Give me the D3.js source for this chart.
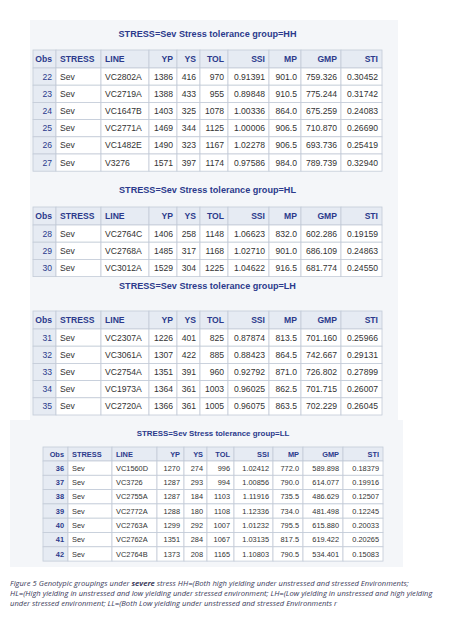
<!DOCTYPE html><html><head><meta charset="utf-8">
<script src="https://cdn.jsdelivr.net/npm/d3@7"></script>
<style>body{margin:0;background:#fff}</style></head><body>
<svg id="c" width="471" height="635"></svg>
<script>
const columns=["Obs","STRESS","LINE","YP","YS","TOL","SSI","MP","GMP","STI"];
const groupTitles=["STRESS=Sev Stress tolerance group=HH","STRESS=Sev Stress tolerance group=HL","STRESS=Sev Stress tolerance group=LH","STRESS=Sev Stress tolerance group=LL"];
const hhRows=[
[22,"Sev","VC2802A",1386,416,970,"0.91391","901.0","759.326","0.30452"],
[23,"Sev","VC2719A",1388,433,955,"0.89848","910.5","775.244","0.31742"],
[24,"Sev","VC1647B",1403,325,1078,"1.00336","864.0","675.259","0.24083"],
[25,"Sev","VC2771A",1469,344,1125,"1.00006","906.5","710.870","0.26690"],
[26,"Sev","VC1482E",1490,323,1167,"1.02278","906.5","693.736","0.25419"],
[27,"Sev","V3276",1571,397,1174,"0.97586","984.0","789.739","0.32940"]];
const hlRows=[
[28,"Sev","VC2764C",1406,258,1148,"1.06623","832.0","602.286","0.19159"],
[29,"Sev","VC2768A",1485,317,1168,"1.02710","901.0","686.109","0.24863"],
[30,"Sev","VC3012A",1529,304,1225,"1.04622","916.5","681.774","0.24550"]];
const lhRows=[
[31,"Sev","VC2307A",1226,401,825,"0.87874","813.5","701.160","0.25966"],
[32,"Sev","VC3061A",1307,422,885,"0.88423","864.5","742.667","0.29131"],
[33,"Sev","VC2754A",1351,391,960,"0.92792","871.0","726.802","0.27899"],
[34,"Sev","VC1973A",1364,361,1003,"0.96025","862.5","701.715","0.26007"],
[35,"Sev","VC2720A",1366,361,1005,"0.96075","863.5","702.229","0.26045"]];
const llRows=[
[36,"Sev","VC1560D",1270,274,996,"1.02412","772.0","589.898","0.18379"],
[37,"Sev","VC3726",1287,293,994,"1.00856","790.0","614.077","0.19916"],
[38,"Sev","VC2755A",1287,184,1103,"1.11916","735.5","486.629","0.12507"],
[39,"Sev","VC2772A",1288,180,1108,"1.12336","734.0","481.498","0.12245"],
[40,"Sev","VC2763A",1299,292,1007,"1.01232","795.5","615.880","0.20033"],
[41,"Sev","VC2762A",1351,284,1067,"1.03135","817.5","619.422","0.20265"],
[42,"Sev","VC2764B",1373,208,1165,"1.10803","790.5","534.401","0.15083"]];
const caption=["Figure 5 Genotypic groupings under |severe| stress  HH=(Both high yielding under unstressed and stressed Environments;",
"HL=(High yielding in unstressed and low yielding under stressed environment; LH=(Low yielding in unstressed and high yielding",
"under stressed environment; LL=(Both Low yielding under unstressed and stressed Environments r"];

const svg=d3.select("#c");
const navy="#2b3a8c";
svg.append("rect").attr("x",30).attr("y",20).attr("width",368).attr("height",400).attr("fill","#f4f6f9");
svg.append("rect").attr("x",10).attr("y",420).attr("width",393).attr("height",147).attr("fill","#f4f6f9");

const edgesA=[33,56,101,149,177,200,228,269,301,341,382];
const edgesB=[43,68,112,157,184,207,234,273,303,343,383];
const leftAlign=new Set([1,2]);
function table(rows,title,titleY,top,edges,hh,rh,fs,boldObs){
  const x=d3.scaleOrdinal().domain(columns).range(edges.slice(0,-1));
  const w=c=>edges[columns.indexOf(c)+1]-x(c);
  const y=d3.scaleBand().domain(d3.range(rows.length)).range([top+hh,top+hh+rh*rows.length]);
  svg.append("text").attr("x",(edges[0]+edges[10])/2).attr("y",titleY).attr("text-anchor","middle")
    .attr("font-family","Liberation Sans, Arial").attr("font-weight","bold").attr("font-size",fs+0.5).attr("fill",navy).text(title);
  const g=svg.append("g").attr("font-family","Liberation Sans, Arial").attr("font-size",fs);
  columns.forEach((c,i)=>{
    g.append("rect").attr("x",x(c)).attr("y",top).attr("width",w(c)).attr("height",hh).attr("fill","#e6ebf3").attr("stroke","#c3cbd8").attr("stroke-width",0.8);
    g.append("text").attr("x",leftAlign.has(i)?x(c)+4:x(c)+w(c)-4).attr("y",top+hh/2+fs*0.36)
      .attr("text-anchor",leftAlign.has(i)?"start":"end").attr("font-weight","bold").attr("fill",navy).text(c);
  });
  rows.forEach((r,ri)=>{
    r.forEach((v,i)=>{
      const c=columns[i];
      g.append("rect").attr("x",x(c)).attr("y",y(ri)).attr("width",w(c)).attr("height",y.bandwidth())
        .attr("fill",i===0?"#e6ebf3":"#fff").attr("stroke","#c3cbd8").attr("stroke-width",0.8);
      g.append("text").attr("x",leftAlign.has(i)?x(c)+4:x(c)+w(c)-4).attr("y",y(ri)+y.bandwidth()/2+fs*0.36)
        .attr("text-anchor",leftAlign.has(i)?"start":"end")
        .attr("font-weight",i===0&&boldObs?"bold":"normal").attr("fill",i===0?navy:"#333").text(v);
    });
  });
}
table(hhRows,groupTitles[0],37,50,edgesA,18,17.2,8.6,false);
table(hlRows,groupTitles[1],193,207,edgesA,18,17.2,8.6,false);
table(lhRows,groupTitles[2],289,311,edgesA,18,17.2,8.6,false);
table(llRows,groupTitles[3],436,447,edgesB,14,14.3,7.4,true);

caption.forEach((line,i)=>{
  const t=svg.append("text").attr("x",10).attr("y",586+i*10).attr("font-family","Open Sans, Liberation Sans")
    .attr("font-style","italic").attr("font-size",7.6).attr("fill","#3a3a5a").attr("textLength",null);
  line.split("|").forEach((p,j)=>t.append("tspan").attr("font-weight",j===1?"bold":"normal").text(p));
});
</script></body></html>
